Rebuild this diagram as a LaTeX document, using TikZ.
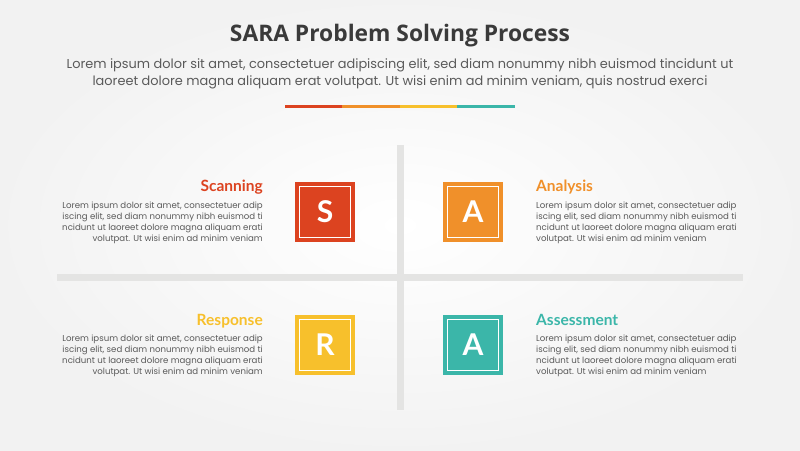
\documentclass[tikz,border=0pt]{standalone}
\usepackage{fontspec}
\setmainfont{Poppins}
\newfontfamily\titlefont{Open Sans}
\newfontfamily\headfont{Lato}
\definecolor{cred}{HTML}{DC4320}
\definecolor{corange}{HTML}{F0902A}
\definecolor{cyellow}{HTML}{F7C02C}
\definecolor{cteal}{HTML}{3BB6A9}
\definecolor{ctitle}{HTML}{3A3A3A}
\definecolor{ctext}{HTML}{5A5A5A}
\definecolor{cbar}{HTML}{E4E4E3}
\begin{document}
\begin{tikzpicture}[x=1pt,y=-1pt,
  letterbox/.style={minimum size=60pt,inner sep=0pt,text=white,font=\headfont\bfseries\fontsize{30}{30}\selectfont},
  heading/.style={inner sep=0pt,font=\headfont\bfseries\fontsize{15.5}{15.5}\selectfont},
  bodytext/.style={inner sep=0pt,text=ctext,font=\fontsize{8.6}{11}\selectfont}]
\useasboundingbox (0,0) rectangle (800,450);
\shade[inner color=white,outer color=black!5] (0,0) rectangle (800,450);
% title
\node[font=\titlefont\bfseries\fontsize{22.8}{22.8}\selectfont,text=ctitle] (title) at (400,36) {SARA Problem Solving Process};
\node[align=center,text=ctext,font=\fontsize{12.9}{16.5}\selectfont] (sub) at (400,74) {Lorem ipsum dolor sit amet, consectetuer adipiscing elit, sed diam nonummy nibh euismod tincidunt ut\\laoreet dolore magna aliquam erat volutpat. Ut wisi enim ad minim veniam, quis nostrud exerci};
% colored line
\fill[cred] (285,104.5) rectangle (342,107.5);
\fill[corange] (342,104.5) rectangle (400,107.5);
\fill[cyellow] (400,104.5) rectangle (457,107.5);
\fill[cteal] (457,104.5) rectangle (515,107.5);
% cross
\fill[cbar] (396.5,145) rectangle (403.5,410);
\fill[cbar] (57,273.5) rectangle (743,280.5);
% boxes
\node[letterbox,fill=cred] (s) at (325,212) {S};
\node[letterbox,fill=corange] (a1) at (473,212) {A};
\node[letterbox,fill=cyellow] (r) at (325,345) {R};
\node[letterbox,fill=cteal] (a2) at (473,345) {A};
\foreach \b in {s,a1,r,a2}{
  \draw[white,line width=1.3pt] ([shift={(5,5)}]\b.north west) rectangle ([shift={(-5,-5)}]\b.south east);
}
% headings
\node[heading,text=cred,anchor=base east] (hs) at (263,191) {Scanning};
\node[heading,text=corange,anchor=base west] (ha1) at (536,191) {Analysis};
\node[heading,text=cyellow,anchor=base east] (hr) at (263,325) {Response};
\node[heading,text=cteal,anchor=base west] (ha2) at (536,325) {Assessment};
% body
\node[bodytext,align=right,anchor=north east] (ts) at (263,202) {Lorem ipsum dolor sit amet, consectetuer adip\\iscing elit, sed diam nonummy nibh euismod ti\\ncidunt ut laoreet dolore magna aliquam erati\\volutpat. Ut wisi enim ad minim veniam};
\node[bodytext,align=left,anchor=north west] (ta1) at (536,202) {Lorem ipsum dolor sit amet, consectetuer adip\\iscing elit, sed diam nonummy nibh euismod ti\\ncidunt ut laoreet dolore magna aliquam erati\\volutpat. Ut wisi enim ad minim veniam};
\node[bodytext,align=right,anchor=north east] (tr) at (263,335) {Lorem ipsum dolor sit amet, consectetuer adip\\iscing elit, sed diam nonummy nibh euismod ti\\ncidunt ut laoreet dolore magna aliquam erati\\volutpat. Ut wisi enim ad minim veniam};
\node[bodytext,align=left,anchor=north west] (ta2) at (536,335) {Lorem ipsum dolor sit amet, consectetuer adip\\iscing elit, sed diam nonummy nibh euismod ti\\ncidunt ut laoreet dolore magna aliquam erati\\volutpat. Ut wisi enim ad minim veniam};
\end{tikzpicture}
\end{document}
